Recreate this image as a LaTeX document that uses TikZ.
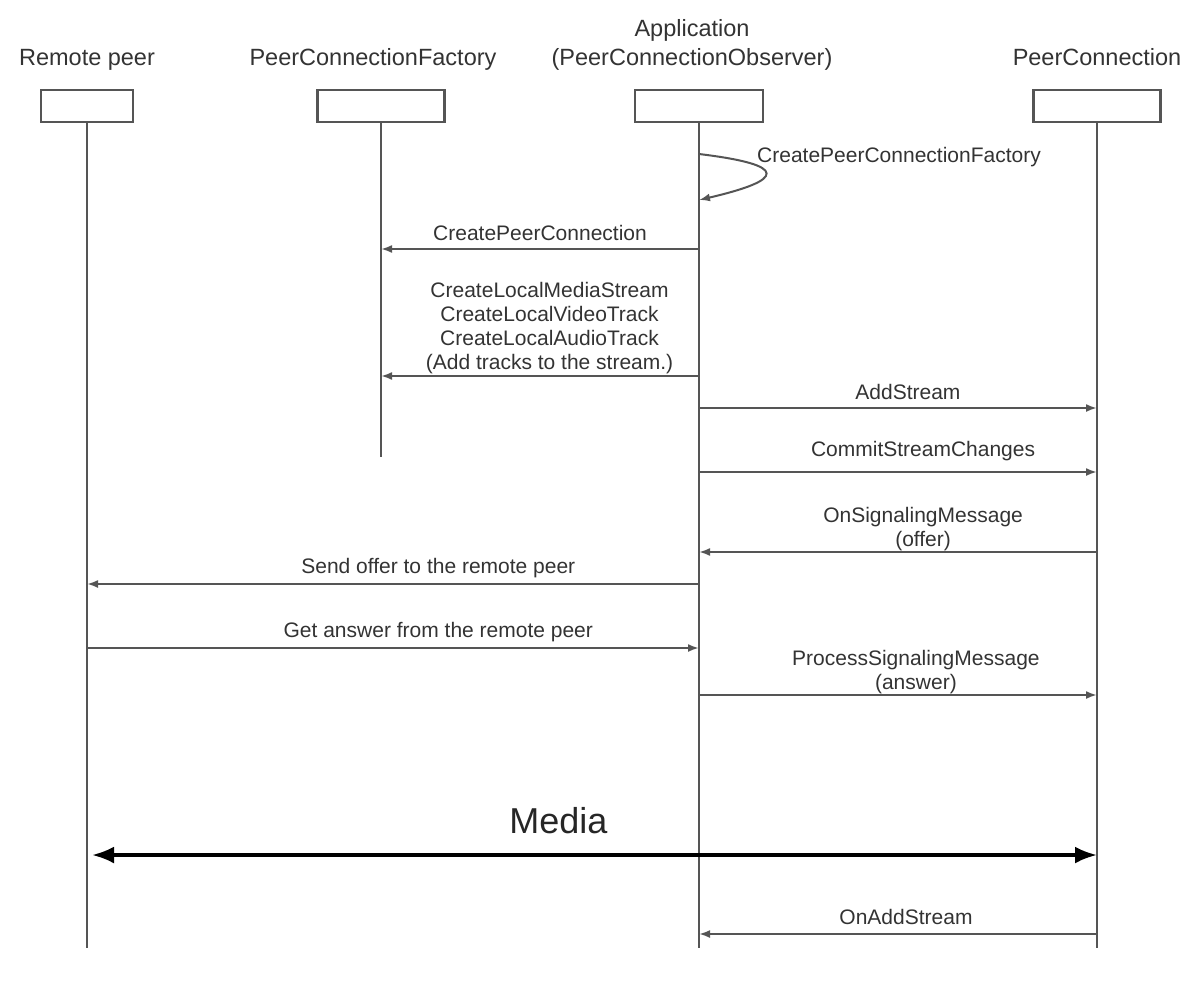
\documentclass[tikz,border=0pt]{standalone}
\usepackage{fontspec}
\setmainfont{Liberation Sans}
\usetikzlibrary{positioning, calc, arrows.meta}
\definecolor{lineGray}{HTML}{555555}
\definecolor{textGray}{HTML}{333333}
\tikzstyle{Arrow} = [
lineGray,
line width=2pt,
-{Latex[length=11pt,width=8pt]}]
\tikzstyle{Media} = [
black,
line width=3.5pt,
{Latex[length=22pt,width=17pt]}-{Latex[length=22pt,width=17pt]}]
\tikzstyle{Head} = [draw=lineGray, line width=2.5pt, minimum height=32pt, inner sep=0pt]
\tikzstyle{Life} = [lineGray, line width=2pt]
\tikzstyle{Title} = [textGray, font=\fontsize{23.5}{29}\selectfont,
inner sep=0pt, text depth=0pt, align=center]
\tikzstyle{Label} = [textGray, font=\fontsize{21}{24}\selectfont,
inner sep=0pt, text depth=0pt, align=center]

\begin{document}
\begin{tikzpicture}[x=1pt, y=-1pt]
    \useasboundingbox (0,0) rectangle (1201,983);

    % lifeline heads
    \node [Head, minimum width=92pt] (rp) at (87,106) {};
    \node [Head, minimum width=127pt] (pcf) at (381,106) {};
    \node [Head, minimum width=128pt] (app) at (699,106) {};
    \node [Head, minimum width=127pt] (pc) at (1097,106) {};

    \node [Title, above=23pt of rp] (rpT) {Remote peer};
    \node [Title, above=23pt of pcf, xshift=-8pt] (pcfT) {PeerConnectionFactory};
    \node [Title, above=23pt of app, xshift=-7pt] (appT) {Application\\(PeerConnectionObserver)};
    \node [Title, above=23pt of pc] (pcT) {PeerConnection};

    % lifelines
    \coordinate (rpEnd) at (87,948);
    \coordinate (pcfEnd) at (381,457);
    \coordinate (appEnd) at (699,948);
    \coordinate (pcEnd) at (1097,948);
    \draw[Life] (rp.south) -- (rpEnd);
    \draw[Life] (pcf.south) -- (pcfEnd);
    \draw[Life] (app.south) -- (appEnd);
    \draw[Life] (pc.south) -- (pcEnd);

    % message rows
    \coordinate (r1) at (0,154);
    \coordinate (r1b) at (0,200);
    \coordinate (r2) at (0,249);
    \coordinate (r3) at (0,376);
    \coordinate (r4) at (0,408);
    \coordinate (r5) at (0,472);
    \coordinate (r6) at (0,552);
    \coordinate (r7) at (0,584);
    \coordinate (r8) at (0,648);
    \coordinate (r9) at (0,695);
    \coordinate (r10) at (0,855);
    \coordinate (r11) at (0,934);

    \draw[Arrow] (app |- r1) .. controls (790,165) and (785,180) .. (app |- r1b);
    \node [Label, anchor=base west] (loopLbl) at ($(app |- r1)+(58,8)$) {CreatePeerConnectionFactory};

    \draw[Arrow] (app |- r2) -- node[Label, above=8pt] {CreatePeerConnection} (pcf |- r2);
    \draw[Arrow] (app |- r3) -- node[Label, pos=0.47, above=6pt]
        {CreateLocalMediaStream\\CreateLocalVideoTrack\\CreateLocalAudioTrack\\(Add tracks to the stream.)} (pcf |- r3);
    \draw[Arrow] (app |- r4) -- node[Label, pos=0.525, above=7.5pt] {AddStream} (pc |- r4);
    \draw[Arrow] (app |- r5) -- node[Label, pos=0.563, above=15pt] {CommitStreamChanges} (pc |- r5);
    \draw[Arrow] (pc |- r6) -- node[Label, pos=0.437, above=5pt] {OnSignalingMessage\\(offer)} (app |- r6);
    \draw[Arrow] (app |- r7) -- node[Label, pos=0.426, above=9.5pt] {Send offer to the remote peer} (rp |- r7);
    \draw[Arrow] (rp |- r8) -- node[Label, pos=0.574, above=9.5pt] {Get answer from the remote peer} (app |- r8);
    \draw[Arrow] (app |- r9) -- node[Label, pos=0.545, above=5pt] {ProcessSignalingMessage\\(answer)} (pc |- r9);

    \draw[Media] ($(rp |- r10)+(5,0)$) -- node[Label, pos=0.464, above=20pt, font=\fontsize{36}{40}\selectfont, text=black!85] {Media} (pc |- r10);

    \draw[Arrow] (pc |- r11) -- node[Label, pos=0.48, above=9pt] {OnAddStream} (app |- r11);
\end{tikzpicture}
\end{document}
